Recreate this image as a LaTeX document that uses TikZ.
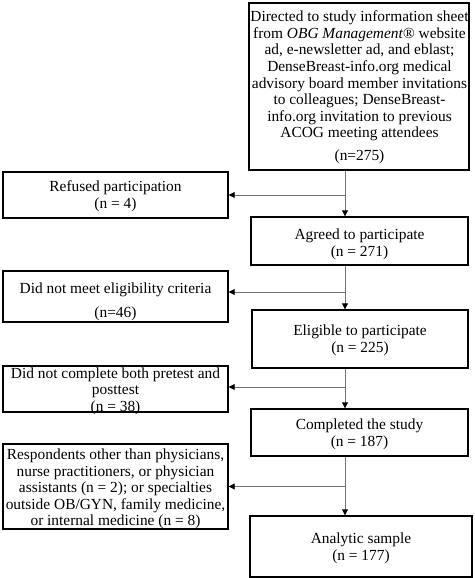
\documentclass[tikz,border=0pt]{standalone}
\usepackage{fontspec}
\setmainfont{Liberation Serif}
\usetikzlibrary{arrows.meta}
\begin{document}
\begin{tikzpicture}[x=1pt,y=-1pt,
  box/.style={draw=black, line width=1.4pt, rectangle, inner sep=0pt},
  txt/.style={align=center, inner sep=0pt, yshift=-1.5pt, font=\fontsize{15.4}{16.6}\selectfont},
  conn/.style={draw=black!55, line width=0.9pt},
  arr/.style={conn, -{Triangle[length=6pt,width=6pt,color=black]}}]
\useasboundingbox (0,0) rectangle (474,578);
% boxes
\node[box, minimum width=220pt, minimum height=167pt] (top) at (359,86.5) {};
\node[box, minimum width=225pt, minimum height=46pt] (refused) at (115.5,195) {};
\node[box, minimum width=217pt, minimum height=48pt] (agreed) at (359.5,241) {};
\node[box, minimum width=225pt, minimum height=51pt] (didnot) at (115.5,296.5) {};
\node[box, minimum width=216pt, minimum height=58pt] (eligible) at (360,339) {};
\node[box, minimum width=225pt, minimum height=46pt] (notcomplete) at (115.5,389) {};
\node[box, minimum width=217pt, minimum height=47pt] (completed) at (359.5,432.5) {};
\node[box, minimum width=225pt, minimum height=85pt] (respondents) at (115.5,486.5) {};
\node[box, minimum width=222pt, minimum height=61pt] (analytic) at (361,546.5) {};
% texts
\node[txt] (topT) at (359.5,86) {Directed to study information sheet\\
from \textit{OBG Management}® website\\
ad, e-newsletter ad, and eblast;\\
DenseBreast-info.org medical\\
advisory board member invitations\\
to colleagues; DenseBreast-\\
info.org invitation to previous\\
ACOG meeting attendees\\[6.5pt]
(n=275)};
\node[txt] (refusedT) at (115.5,195) {Refused participation\\(n = 4)};
\node[txt] (agreedT) at (359.5,242.5) {Agreed to participate\\(n = 271)};
\node[txt] (didnotT) at (115.5,300) {Did not meet eligibility criteria\\[7.5pt](n=46)};
\node[txt] (eligibleT) at (360,339) {Eligible to participate\\(n = 225)};
\node[txt] (notcompleteT) at (115.5,389.5) {Did not complete both pretest and\\posttest\\(n = 38)};
\node[txt] (completedT) at (359.5,432.5) {Completed the study\\(n = 187)};
\node[txt] (respondentsT) at (115.5,487.5) {Respondents other than physicians,\\
nurse practitioners, or physician\\
assistants (n = 2); or specialties\\
outside OB/GYN, family medicine,\\
or internal medicine (n = 8)};
\node[txt] (analyticT) at (361,546.5) {Analytic sample\\(n = 177)};
% connectors
\coordinate (trunk) at (345,0);
\draw[arr] (top.south -| trunk) -- (agreed.north -| trunk);
\draw[arr] (refused.east -| trunk) -- (refused.east);
\draw[arr] (agreed.south -| trunk) -- (eligible.north -| trunk);
\draw[arr] ([yshift=4.5pt]didnot.east -| trunk) -- ([yshift=4.5pt]didnot.east);
\draw[arr] (eligible.south -| trunk) -- (completed.north -| trunk);
\draw[arr] ([yshift=2pt]notcomplete.east -| trunk) -- ([yshift=2pt]notcomplete.east);
\draw[arr] (completed.south -| trunk) -- (analytic.north -| trunk);
\draw[arr] (respondents.east -| trunk) -- (respondents.east);
\end{tikzpicture}
\end{document}
